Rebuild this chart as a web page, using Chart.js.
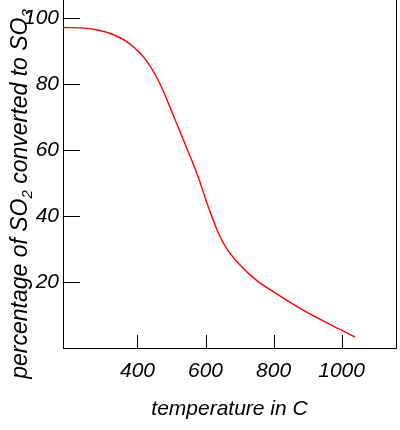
<!DOCTYPE html>
<html>
<head>
<meta charset="utf-8">
<script src="https://cdn.jsdelivr.net/npm/chart.js@4.4.0/dist/chart.umd.min.js"></script>
<style>
  html, body { margin: 0; padding: 0; background: #fff; }
  #wrap { width: 400px; height: 430px; }
</style>
</head>
<body>
<div id="wrap"><canvas id="chart"></canvas></div>
<script>
// values
const temps = [181, 230, 270, 320, 370, 420, 465, 495, 535, 575, 608, 633, 660, 700, 750, 800, 900, 1000, 1040];
const converted = [97.1, 97.0, 96.6, 95.3, 92.7, 87.9, 80.3, 73.1, 63.0, 52.8, 42.8, 36.0, 30.5, 25.3, 20.5, 17.0, 10.7, 5.4, 3.3];
const xTicks = [400, 600, 800, 1000];
const yTicks = [20, 40, 60, 80, 100];
const xRange = [181, 1160];
const yRange = [0, 105.45];
const xTitle = 'temperature in C';
// y title pieces: [text, isSubscript]
const yTitle = [['percentage of SO', false], ['2', true], [' converted to SO', false], ['3', true]];

const FONT = '"Liberation Sans", Arial, sans-serif';

// frame on the right, inward tick marks and the y title with subscripts
const framePlugin = {
  id: 'frame',
  afterDraw(chart) {
    const { ctx, chartArea: a, scales: { x, y } } = chart;
    ctx.save();
    ctx.strokeStyle = '#000';
    ctx.lineWidth = 1;
    ctx.beginPath();
    const r = Math.round(a.right) + 0.5;
    ctx.moveTo(r, 0);
    ctx.lineTo(r, a.bottom);
    yTicks.forEach((v) => {
      const py = Math.round(y.getPixelForValue(v)) + 0.5;
      ctx.moveTo(a.left, py);
      ctx.lineTo(a.left + 17, py);
    });
    xTicks.forEach((v) => {
      const px = Math.round(x.getPixelForValue(v)) + 0.5;
      ctx.moveTo(px, a.bottom);
      ctx.lineTo(px, a.bottom - 13);
    });
    ctx.stroke();

    // rotated y title
    const mainFont = 'italic 23px ' + FONT;
    const subFont = 'italic 15px ' + FONT;
    let total = 0;
    yTitle.forEach(([t, sub]) => {
      ctx.font = sub ? subFont : mainFont;
      total += ctx.measureText(t).width;
    });
    ctx.translate(27, 194);
    ctx.rotate(-Math.PI / 2);
    ctx.fillStyle = '#000';
    ctx.textBaseline = 'alphabetic';
    ctx.textAlign = 'left';
    let cx = -total / 2;
    yTitle.forEach(([t, sub]) => {
      ctx.font = sub ? subFont : mainFont;
      ctx.fillText(t, cx, sub ? 5 : 0);
      cx += ctx.measureText(t).width;
    });
    ctx.restore();
  }
};

new Chart(document.getElementById('chart'), {
  type: 'line',
  data: {
    datasets: [{
      data: temps.map((t, i) => ({ x: t, y: converted[i] })),
      borderColor: '#ff0000',
      borderWidth: 1.4,
      pointRadius: 0,
      fill: false,
      cubicInterpolationMode: 'monotone'
    }]
  },
  options: {
    responsive: true,
    maintainAspectRatio: false,
    animation: false,
    layout: { padding: { top: 0, right: 4, left: 0, bottom: 0 } },
    plugins: { legend: { display: false }, tooltip: { enabled: false } },
    scales: {
      x: {
        type: 'linear',
        min: xRange[0],
        max: xRange[1],
        afterBuildTicks: (s) => { s.ticks = xTicks.map((v) => ({ value: v })); },
        afterFit: (s) => { s.height = 82; s.paddingLeft = 0; s.paddingRight = 0; },
        grid: { display: true, drawOnChartArea: false, drawTicks: false },
        border: { display: true, color: '#000', width: 1 },
        ticks: {
          color: '#000',
          padding: 11,
          maxRotation: 0,
          callback: (v) => String(v),
          font: { family: FONT, size: 21, style: 'italic' }
        },
        title: {
          display: true,
          text: xTitle,
          color: '#000',
          padding: { top: 0, bottom: 8 },
          font: { family: FONT, size: 21, style: 'italic' }
        }
      },
      y: {
        type: 'linear',
        min: yRange[0],
        max: yRange[1],
        afterBuildTicks: (s) => { s.ticks = yTicks.map((v) => ({ value: v })); },
        afterFit: (s) => { s.width = 63; s.paddingTop = 0; s.paddingBottom = 0; },
        grid: { display: true, drawOnChartArea: false, drawTicks: false },
        border: { display: true, color: '#000', width: 1 },
        ticks: {
          color: '#000',
          padding: 4,
          callback: (v) => String(v),
          font: { family: FONT, size: 21, style: 'italic' }
        }
      }
    }
  },
  plugins: [framePlugin]
});
</script>
</body>
</html>
